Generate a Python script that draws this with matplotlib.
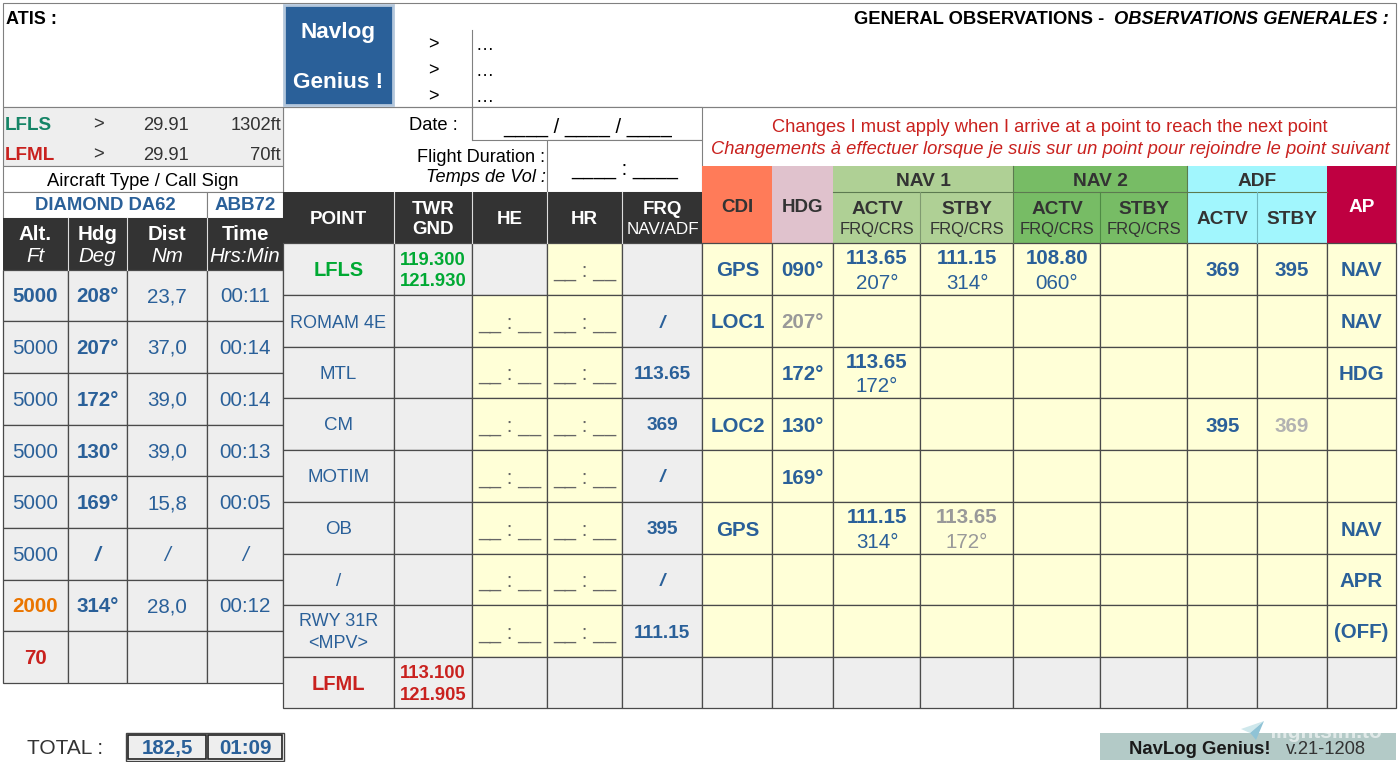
import matplotlib
matplotlib.use('Agg')
import matplotlib.pyplot as plt
from matplotlib.patches import Rectangle, Polygon

plt.rcParams['font.family'] = ['Liberation Sans', 'DejaVu Sans']

BLUE = '#2a6099'
GREEN = '#00a933'
TEAL = '#158466'
RED = '#c9211e'
ORANGE = '#ea7500'
GREY = '#999999'
LGREY = '#b2b2b2'
DARK = '#333333'
CELL = '#eeeeee'
YELLOW = '#ffffd7'
LINE = '#4a4a4a'
SOFT = '#808080'

# left block
alt_vals = ['5000', '5000', '5000', '5000', '5000', '5000', '2000', '70']
hdg_vals = ['208°', '207°', '172°', '130°', '169°', '/', '314°', '']
dist_vals = ['23,7', '37,0', '39,0', '39,0', '15,8', '/', '28,0', '']
time_vals = ['00:11', '00:14', '00:14', '00:13', '00:05', '/', '00:12', '']

# main table
points = ['LFLS', 'ROMAM 4E', 'MTL', 'CM', 'MOTIM', 'OB', '/', 'RWY 31R\n<MPV>', 'LFML']
twr_gnd = ['119.300\n121.930', '', '', '', '', '', '', '', '113.100\n121.905']
frq_vals = ['', '/', '113.65', '369', '/', '395', '/', '111.15', '']
cdi_vals = ['GPS', 'LOC1', '', 'LOC2', '', 'GPS', '', '', '']
hdg_set = ['090°', '207°', '172°', '130°', '169°', '', '', '', '']
nav1_actv = ['113.65\n207°', '', '113.65\n172°', '', '', '111.15\n314°', '', '', '']
nav1_stby = ['111.15\n314°', '', '', '', '', '113.65\n172°', '', '', '']
nav2_actv = ['108.80\n060°', '', '', '', '', '', '', '', '']
nav2_stby = ['', '', '', '', '', '', '', '', '']
adf_actv = ['369', '', '', '395', '', '', '', '', '']
adf_stby = ['395', '', '', '369', '', '', '', '', '']
ap_vals = ['NAV', 'NAV', 'HDG', '', '', 'NAV', 'APR', '(OFF)', '']

left_x = [3, 68, 127, 207, 283]
left_y = [270, 321, 373, 425, 476, 528, 580, 631, 683]
main_x = [283, 394, 472, 547, 622, 702, 772, 833, 920, 1013, 1100, 1187, 1257, 1327, 1396]
main_y = [243, 295, 347, 398, 450, 502, 554, 605, 657, 708]

fig = plt.figure(figsize=(14, 7.62), dpi=100)
ax = fig.add_axes([0, 0, 1, 1])
ax.set_xlim(0, 1400)
ax.set_ylim(762, 0)
ax.axis('off')


def box(x0, y0, x1, y1, fc='none', ec=LINE, lw=0.9, z=2):
    ax.add_patch(Rectangle((x0, y0), x1 - x0, y1 - y0, facecolor=fc, edgecolor=ec, linewidth=lw, zorder=z))


def vline(x, y0, y1, color=LINE, lw=0.8):
    ax.plot([x, x], [y0, y1], color=color, lw=lw, zorder=3)


def txt(x, y, s, size=14.8, color=BLUE, weight='normal', style='normal', ha='center'):
    ax.text(x, y, s, fontsize=size, color=color, fontweight=weight, fontstyle=style,
            ha=ha, va='center_baseline', zorder=5)


def two_lines(xc, yc, s, color=BLUE, size=14.8):
    top, bottom = s.split('\n')
    txt(xc, yc - 12.5, top, size=size, color=color, weight='bold')
    txt(xc, yc + 12.5, bottom, size=size, color=color)


# top part
box(3, 3, 1396, 107, ec=SOFT, lw=0.8)
box(283, 107, 1396, 243, ec=SOFT, lw=0.8)
txt(6, 17, 'ATIS :', size=13, color='black', weight='bold', ha='left')
txt(854, 17, 'GENERAL OBSERVATIONS - ', size=13.2, color='black', weight='bold', ha='left')
txt(1389, 17, 'OBSERVATIONS GENERALES :', size=13.2, color='black', weight='bold', style='italic', ha='right')
box(284, 5, 393, 105, fc=BLUE, ec='#b4c7dc', lw=2, z=3)
txt(338.5, 30, 'Navlog', size=16.2, color='white', weight='bold')
txt(338.5, 80.5, 'Genius !', size=16.2, color='white', weight='bold')
for yy in [43, 69, 95]:
    txt(433, yy, '>', size=13, color='black')
    txt(475, yy, '…', size=13, color='black', ha='left')
vline(472, 30, 140, color=SOFT)

# airport lines
box(3, 107, 283, 166, fc=CELL, ec=SOFT, lw=0.8)
txt(5, 123, 'LFLS', weight='bold', size=13.6, color=TEAL, ha='left')
txt(5, 153, 'LFML', weight='bold', size=13.6, color=RED, ha='left')
for yy, qnh, elev in [(123, '29.91', '1302ft'), (153, '29.91', '70ft')]:
    txt(98, yy, '>', size=13.2, color=DARK)
    txt(166.5, yy, qnh, size=13.2, color=DARK)
    txt(281, yy, elev, size=13.2, color=DARK, ha='right')
box(3, 166, 283, 192, fc='white', ec=SOFT, lw=0.8)
txt(143, 179, 'Aircraft Type / Call Sign', size=13.2, color='black')
box(3, 192, 207, 218, fc='white', ec=SOFT, lw=0.8)
box(207, 192, 283, 218, fc='white', ec=SOFT, lw=0.8)
txt(105, 204, 'DIAMOND DA62', size=13.3, weight='bold')
txt(245, 204, 'ABB72', size=13.5, weight='bold')

# left header
box(3, 218, 283, 270, fc=DARK, ec='none')
left_head = [('Alt.', 'Ft'), ('Hdg', 'Deg'), ('Dist', 'Nm'), ('Time', 'Hrs:Min')]
for i, (a, b) in enumerate(left_head):
    xc = (left_x[i] + left_x[i + 1]) / 2
    if i > 0:
        vline(left_x[i], 218, 270, color='#dddddd')
    txt(xc, 232, a, color='white', weight='bold')
    txt(xc, 255, b, color='white', style='italic')

# left rows
alt_colors = [BLUE] * 6 + [ORANGE, RED]
alt_weights = ['bold'] + ['normal'] * 5 + ['bold', 'bold']
for r in range(8):
    yc = (left_y[r] + left_y[r + 1]) / 2 - 0.5
    for c in range(4):
        box(left_x[c], left_y[r], left_x[c + 1], left_y[r + 1], fc=CELL)
    txt((left_x[0] + left_x[1]) / 2, yc, alt_vals[r], color=alt_colors[r], weight=alt_weights[r])
    txt((left_x[1] + left_x[2]) / 2, yc, hdg_vals[r], weight='bold', style='italic' if hdg_vals[r] == '/' else 'normal')
    txt((left_x[2] + left_x[3]) / 2, yc, dist_vals[r], style='italic' if dist_vals[r] == '/' else 'normal')
    txt((left_x[3] + left_x[4]) / 2, yc, time_vals[r], style='italic' if time_vals[r] == '/' else 'normal')

# date / duration
box(472, 107, 702, 140, fc='white', ec=SOFT, lw=0.8)
box(547, 140, 702, 192, fc='white', ec=SOFT, lw=0.8)
txt(458, 123, 'Date :', size=13.2, color='black', ha='right')
txt(545, 155, 'Flight Duration :', size=13.1, color='black', ha='right')
txt(546, 176, 'Temps de Vol :', size=13.1, color='black', style='italic', ha='right')
txt(587.5, 125, '____ / ____ / ____', size=14.5, color='black')
txt(625, 167, '____ : ____', size=14.5, color='black')
txt(1050, 125, 'Changes I must apply when I arrive at a point to reach the next point', size=13.2, color=RED)
txt(1050, 147, 'Changements à effectuer lorsque je suis sur un point pour rejoindre le point suivant',
    size=13.2, color=RED, style='italic')

# main header, dark part
box(283, 192, 702, 243, fc=DARK, ec='none')
for xx in main_x[1:5]:
    vline(xx, 192, 243, color='#dddddd')
txt(338.5, 218, 'POINT', size=13.5, color='white', weight='bold')
txt(433, 207, 'TWR', size=13.5, color='white', weight='bold')
txt(433, 228, 'GND', size=13.5, color='white', weight='bold')
txt(509.5, 218, 'HE', size=13.5, color='white', weight='bold')
txt(584.5, 218, 'HR', size=13.5, color='white', weight='bold')
txt(662, 208, 'FRQ', size=13.5, color='white', weight='bold')
txt(662.5, 228, 'NAV/ADF', size=12.3, color='white')

# main header, coloured part
box(702, 166, 772, 243, fc='#ff7b59', ec='none')
box(772, 166, 833, 243, fc='#e0c2cd', ec='none')
box(833, 166, 1013, 243, fc='#afd095', ec='none')
box(1013, 166, 1187, 243, fc='#77bc65', ec='none')
box(1187, 166, 1327, 243, fc='#a1f6fd', ec='none')
box(1327, 166, 1396, 243, fc='#bf0041', ec='none')
ax.plot([833, 1327], [192, 192], color='#5c7a50', lw=0.8, zorder=3)
vline(920, 192, 243, color='#7f9a70')
vline(1100, 192, 243, color='#4f8a45')
vline(1257, 192, 243, color='#6fb9c0')
vline(1013, 166, 243, color='#5c7a50')
vline(1187, 166, 243, color='#5c7a50')
txt(737, 205, 'CDI', size=13.5, color=DARK, weight='bold')
txt(802.5, 205, 'HDG', size=13.5, color=DARK, weight='bold')
txt(923.5, 179, 'NAV 1', size=13.8, color=DARK, weight='bold')
txt(1100, 179, 'NAV 2', size=13.8, color=DARK, weight='bold')
txt(1257, 179, 'ADF', size=13.8, color=DARK, weight='bold')
txt(1361.5, 205, 'AP', size=13.8, color='white', weight='bold')
for xc, name in [(877, 'ACTV'), (967, 'STBY'), (1057, 'ACTV'), (1143.5, 'STBY')]:
    txt(xc, 207, name, size=13.7, color=DARK, weight='bold')
    txt(xc, 228, 'FRQ/CRS', size=12, color=DARK)
txt(1222.5, 218, 'ACTV', size=13.7, color=DARK, weight='bold')
txt(1292, 218, 'STBY', size=13.7, color=DARK, weight='bold')

# main rows
n_rows = len(points)
for r in range(n_rows):
    y0, y1 = main_y[r], main_y[r + 1]
    yc = (y0 + y1) / 2
    for c in range(len(main_x) - 1):
        fc = CELL
        if c >= 5 and r < 8:
            fc = YELLOW
        if c in (2, 3) and r < 8 and not (c == 2 and r == 0):
            fc = YELLOW
        box(main_x[c], y0, main_x[c + 1], y1, fc=fc)

    # point name
    xc = (main_x[0] + main_x[1]) / 2
    if r == 0:
        txt(xc, yc, points[r], size=14.5, color=GREEN, weight='bold')
    elif r == 8:
        txt(xc, yc, points[r], size=14.5, color=RED, weight='bold')
    elif '\n' in points[r]:
        top, bottom = points[r].split('\n')
        txt(xc, yc - 11, top, size=13)
        txt(xc, yc + 10, bottom, size=13)
    else:
        txt(xc, yc, points[r], size=13 if r == 1 else 13.5)

    # tower / ground
    if twr_gnd[r]:
        top, bottom = twr_gnd[r].split('\n')
        col = GREEN if r == 0 else RED
        txt(433, yc - 10.5, top, size=13.3, color=col, weight='bold')
        txt(433, yc + 10.5, bottom, size=13.3, color=col, weight='bold')

    # he / hr
    if 0 < r < 8:
        txt(509.5, yc, '__ : __', size=14.9, color='#666666')
    if r < 8:
        txt(584.5, yc, '__ : __', size=14.9, color='#666666')

    # frq
    if frq_vals[r]:
        txt(662, yc, frq_vals[r], size=13.7, weight='bold', style='italic' if frq_vals[r] == '/' else 'normal')

    txt(737.5, yc, cdi_vals[r], weight='bold')
    txt(802.5, yc, hdg_set[r], weight='bold', color=GREY if r == 1 else BLUE)

    for xc, col, faded in [(877, nav1_actv, False), (967, nav1_stby, r == 5),
                           (1057, nav2_actv, False), (1143.5, nav2_stby, False)]:
        if col[r]:
            two_lines(xc, yc, col[r], color=GREY if faded else BLUE)

    txt(1222.5, yc, adf_actv[r], weight='bold')
    txt(1292, yc, adf_stby[r], weight='bold', color=LGREY if r == 3 else BLUE)
    txt(1361.5, yc, ap_vals[r], weight='bold')

# footer
txt(27, 747, 'TOTAL :', size=15, color=DARK, ha='left')
box(126, 733, 284, 761, ec='#444444', lw=1.0)
box(128, 735, 206, 759, fc=CELL, ec='#222222', lw=1.2)
box(208, 735, 282, 759, fc=CELL, ec='#222222', lw=1.2)
txt(167, 746.5, '182,5', weight='bold')
txt(245, 746.5, '01:09', weight='bold')

box(1100, 733, 1396, 760, fc='#b3cac7', ec='none')
txt(1200, 747, 'NavLog Genius!', size=13.3, color='#1a1a1a', weight='bold')
txt(1326, 747, 'v.21-1208', size=13.2, color=DARK)
ax.add_patch(Polygon([(1241, 729), (1264, 721), (1250, 733)], closed=True, facecolor='#cfe8ec', edgecolor='none', zorder=6))
ax.add_patch(Polygon([(1250, 733), (1264, 721), (1256, 740), (1252, 735)], closed=True, facecolor='#8fc3d6', edgecolor='none', zorder=6))
ax.text(1326, 733, 'flightsim.to', fontsize=15, color='white', alpha=0.6, fontweight='bold', ha='center', va='center', zorder=6)

fig.savefig('out.png', dpi=100)
